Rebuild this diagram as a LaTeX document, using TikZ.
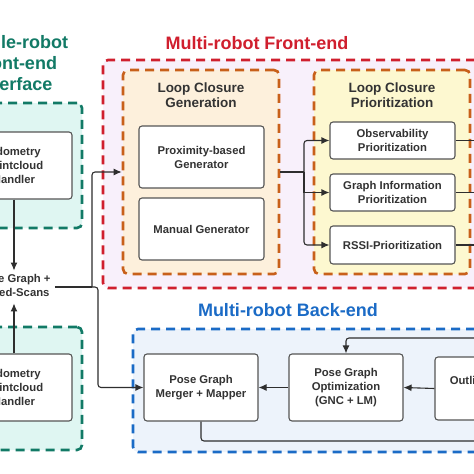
\documentclass[tikz,border=0pt]{standalone}
\usepackage{fontspec}
\setmainfont{Liberation Sans}
\usetikzlibrary{arrows.meta,positioning}
\definecolor{grn}{HTML}{127A66}
\definecolor{grnfill}{HTML}{DFF6F2}
\definecolor{rd}{HTML}{D01F2E}
\definecolor{rdfill}{HTML}{F8F0FB}
\definecolor{org}{HTML}{C8601A}
\definecolor{orgfill}{HTML}{FDF0DC}
\definecolor{ylwfill}{HTML}{FDF8D0}
\definecolor{blu}{HTML}{1B6BC6}
\definecolor{blufill}{HTML}{EDF3FB}
\definecolor{boxgray}{HTML}{555555}
\definecolor{linegray}{HTML}{2E2E2E}
\definecolor{txt}{HTML}{333333}
\newcommand\grouptitle[0]{\fontsize{18}{21}\selectfont\bfseries}
\newcommand\boxtitle[0]{\fontsize{13.5}{15}\selectfont\bfseries}
\newcommand\boxfont[0]{\fontsize{11.3}{14}\selectfont\bfseries}

\begin{document}
\begin{tikzpicture}[x=1pt,y=-1pt,
    group/.style={draw, line width=2.6pt, dash pattern=on 9pt off 6pt, rounded corners=5pt},
    block/.style={draw=boxgray, line width=1.1pt, fill=white, rounded corners=3pt,
        align=center, font=\boxfont, text=txt},
    conn/.style={draw=linegray, line width=1.1pt, -{Latex[length=8pt,width=7pt]}},
    wire/.style={draw=linegray, line width=1.1pt}]
    \useasboundingbox (0,0) rectangle (474,474);
    \clip (0,0) rectangle (474,474);
    \fill[white] (0,0) rectangle (474,474);

    % single-robot side
    \node[font=\grouptitle, text=grn, align=center] (sftitle) at (15,63) {Single-robot\\Front-end\\Interface};
    \node[group, draw=grn, fill=grnfill, minimum width=134pt, minimum height=125pt] (sftop) at (15,165.5) {};
    \node[group, draw=grn, fill=grnfill, minimum width=134pt, minimum height=123pt] (sfbot) at (15,388.5) {};
    \node[block, minimum width=116pt, minimum height=67pt] (odoa) at (14,165.5) {Odometry\\Pointcloud\\Handler};
    \node[block, minimum width=116pt, minimum height=67pt] (odob) at (14,387.5) {Odometry\\Pointcloud\\Handler};
    \node[font=\boxfont, text=txt, align=center, inner sep=4pt] (keyed) at (14,287) {Pose Graph +\\Keyed-Scans};

    % front-end
    \node[font=\grouptitle, text=rd] (fetitle) at (257,43) {Multi-robot Front-end};
    \node[group, draw=rd, fill=rdfill, minimum width=437pt, minimum height=228pt] (mfront) at (321.5,174) {};
    \node[group, draw=org, fill=orgfill, minimum width=156pt, minimum height=204pt] (lcgen) at (201,172) {};
    \node[group, draw=org, fill=ylwfill, minimum width=156pt, minimum height=204pt] (lcprio) at (392,172) {};
    \node[font=\boxtitle, text=txt, align=center] (gentitle) at (201,95) {Loop Closure\\Generation};
    \node[font=\boxtitle, text=txt, align=center] (priotitle) at (392,95) {Loop Closure\\Prioritization};
    \node[block, minimum width=125pt, minimum height=62pt] (prox) at (201.5,157) {Proximity-based\\Generator};
    \node[block, minimum width=125pt, minimum height=62pt] (manual) at (201.5,229) {Manual Generator};
    \node[block, minimum width=125pt, minimum height=37pt] (obs) at (392.5,140.5) {Observability\\Prioritization};
    \node[block, minimum width=125pt, minimum height=37pt] (ginfo) at (392.5,192.5) {Graph Information\\Prioritization};
    \node[block, minimum width=125pt, minimum height=38pt] (rssi) at (392.5,245) {RSSI-Prioritization};

    % back-end
    \node[font=\grouptitle, text=blu] (betitle) at (288,310) {Multi-robot Back-end};
    \node[group, draw=blu, fill=blufill, minimum width=407pt, minimum height=123pt] (mback) at (336.5,390.5) {};
    \node[block, minimum width=114pt, minimum height=67pt] (merger) at (201,387.5) {Pose Graph\\Merger + Mapper};
    \node[block, minimum width=114pt, minimum height=67pt] (pgo) at (346,387.5) {Pose Graph\\Optimization\\(GNC + LM)};
    \node[block, minimum width=120pt, minimum height=63pt, text depth=17pt] (outl) at (495,388.5) {Outlier Rejection};

    % connectors
    \coordinate (split) at (92,287);
    \coordinate (fork) at (304,172);
    \coordinate (obsout) at (500,140.5);
    \coordinate (ginfoout) at (500,192.5);
    \coordinate (rssiout) at (500,245);
    \coordinate (fbin) at (500,338);
    \coordinate (mapout) at (500,441);
    \draw[conn] (odoa.south) -- (keyed.north);
    \draw[conn] (odob.north) -- (keyed.south);
    \draw[wire] (keyed.east) -- (split);
    \draw[conn, rounded corners=3pt] (split) |- (lcgen.west);
    \draw[conn, rounded corners=3pt] (split) -- ++(6,0) |- (merger.west);
    \draw[wire] (lcgen.east) -- (fork);
    \draw[conn, rounded corners=3pt] (fork) |- (obs.west);
    \draw[conn] (fork) |- (ginfo.west);
    \draw[conn, rounded corners=3pt] (fork) |- (rssi.west);
    \draw[wire] (obs.east) -- (obsout);
    \draw[wire] (ginfo.east) -- (ginfoout);
    \draw[wire] (rssi.east) -- (rssiout);
    \draw[conn] (outl.west) -- (pgo.east);
    \draw[conn] (pgo.west) -- (merger.east);
    \draw[conn, rounded corners=3pt] (fbin) -| (pgo.north);
    \draw[wire, rounded corners=3pt] (merger.south) |- (mapout);
\end{tikzpicture}
\end{document}
